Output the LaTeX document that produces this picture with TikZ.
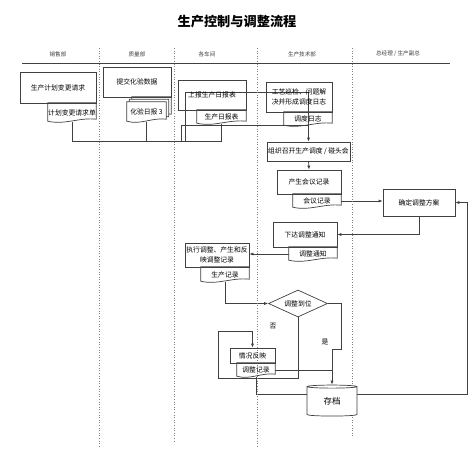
\documentclass[tikz,border=0pt]{standalone}
\usepackage{fontspec}
\setmainfont{Noto Sans CJK SC}
\usetikzlibrary{arrows.meta,calc,shapes.geometric}
\pgfdeclarelayer{docs}
\pgfdeclarelayer{lines}
\pgfsetlayers{docs,lines,main}
\newcommand\bodyfont{\fontsize{6.8}{10.5}\selectfont}
\newcommand\headfont{\fontsize{5.6}{7}\selectfont}
\newcommand\docshape[3]{%
  \draw[ln,fill=white] ($(#1.north west)+(#2,#3)$) -- ($(#1.north east)+(#2,#3)$)
   -- ($(#1.south east)+(#2,#3-3)$)
   .. controls ($(#1.south east)!0.35!(#1.south west)+(#2,#3-5)$) and ($(#1.south east)!0.65!(#1.south west)+(#2,#3+3)$)
   .. ($(#1.south west)+(#2,#3-1)$) -- cycle;}
\tikzset{
  ln/.style={draw=black!75, line width=0.7pt},
  arr/.style={ln, -{Latex[length=4pt,width=3pt]}},
  box/.style={draw=black!75, line width=0.7pt, inner sep=1pt, font=\bodyfont, align=center},
  docn/.style={inner sep=0pt, font=\bodyfont, align=center},
  lab/.style={inner sep=0pt, font=\bodyfont},
  head/.style={inner sep=0pt, font=\headfont, text=black!75},
  div/.style={draw=black!50, line width=0.6pt, dotted}
}
\begin{document}
\begin{tikzpicture}[x=1pt,y=-1pt]
\useasboundingbox (0,0) rectangle (474,474);
\begin{pgfonlayer}{docs}
\fill[white] (0,0) rectangle (474,474);
\end{pgfonlayer}

% title and headers
\node[inner sep=0pt, font=\fontsize{13.2}{15}\selectfont\bfseries] (title) at (237,22) {生产控制与调整流程};
\node[head] (h1) at (58,54) {销售部};
\node[head] (h2) at (137,54) {质量部};
\node[head] (h3) at (207,54) {各车间};
\node[head] (h4) at (302,54) {生产技术部};
\node[head] (h5) at (398,54) {总经理 / 生产副总};
\draw[ln] (22,63) -- (450,63);
\foreach \x/\yb in {99/448,174/443,257/448,352/438} \draw[div] (\x,48) -- (\x,\yb);

% process boxes
\node[box, minimum width=76pt, minimum height=31pt] (b1) at (58,87.5) {生产计划变更请求};
\node[box, minimum width=68pt, minimum height=30pt] (b2) at (137,82) {提交化验数据};
\node[box, minimum width=68pt, minimum height=30pt] (b3) at (212,95) {上报生产日报表};
\node[box, minimum width=66pt, minimum height=30pt, text width=62pt] (b4) at (299,97) {工艺巡检、问题解\\决并形成调度日志};
\node[box, minimum width=83pt, minimum height=19pt] (b5) at (308.5,151.5) {组织召开生产调度 / 碰头会};
\node[box, minimum width=64pt, minimum height=24pt] (b6) at (309,182) {产生会议记录};
\node[box, minimum width=72pt, minimum height=27pt] (b7) at (419,202.5) {确定调整方案};
\node[box, minimum width=64pt, minimum height=25pt] (b8) at (305,234.5) {下达调整通知};
\node[box, minimum width=64pt, minimum height=24pt, text width=62pt] (b9) at (217,255) {执行调整、产生和反\\映调整记录};
\node[box, minimum width=45pt, minimum height=15pt] (b10) at (252.5,355.5) {情况反映};
\node[box, diamond, minimum width=59pt, minimum height=27pt, aspect=2.2, inner sep=0pt] (dia) at (298,303.5) {调整到位};

% document nodes
\node[docn, minimum width=48pt, minimum height=19pt] (d1) at (72,112.5) {计划变更请求单};
\node[docn, minimum width=39pt, minimum height=20pt] (d2) at (146.5,112) {化验日报 3};
\node[docn, minimum width=49pt, minimum height=14pt] (d3) at (221.5,117) {生产日报表};
\node[docn, minimum width=48pt, minimum height=14pt] (d4) at (308,119) {调度日志};
\node[docn, minimum width=48pt, minimum height=14pt] (d6) at (317,201) {会议记录};
\node[docn, minimum width=48pt, minimum height=14pt] (d8) at (313,254) {调整通知};
\node[docn, minimum width=48pt, minimum height=15pt] (d9) at (225,274.5) {生产记录};
\node[docn, minimum width=38pt, minimum height=14pt] (d10) at (256,370) {调整记录};

\begin{pgfonlayer}{docs}
  \docshape{d1}{0}{0}
  \docshape{d2}{5}{-5}
  \docshape{d2}{2.5}{-2.5}
  \docshape{d2}{0}{0}
  \docshape{d3}{0}{0}
  \docshape{d4}{0}{0}
  \docshape{d6}{0}{0}
  \docshape{d8}{0}{0}
  \docshape{d9}{0}{0}
  \docshape{d10}{0}{0}
\end{pgfonlayer}

% archive cylinder
\node[cylinder, shape border rotate=90, aspect=0.18, draw=black!75, line width=0.7pt, fill=white,
      minimum width=50pt, minimum height=31pt, inner sep=0pt, font=\fontsize{8.5}{10}\selectfont] (arch) at (332,401.5) {存档};

% labels
\node[lab] (no) at (273,326) {否};
\node[lab] (yes) at (325,342) {是};

% connectors
\coordinate (bus) at (221.5,141);
\coordinate (up1) at (181,141);
\coordinate (up2) at (185,141);
\coordinate (rt) at (467,394);
\begin{pgfonlayer}{lines}
  \draw[ln] (d1.south) |- (bus) -- (d3.south);
  \draw[ln] (d2.south) -- (d2.south |- bus);
  \draw[ln] (up2) |- ($(b5.north)+(0,-49)$) -- ($(b5.north)+(0,-16)$);
  \draw[arr] (up1) |- ($(b5.north)+(0,-16)$) -- (b5.north);
  \draw[arr] (b5.south) -- (b6.north);
  \draw[arr] (d6.east) -- (d6.east -| b7.west);
  \draw[arr] (b7.south) |- (b8.east);
  \draw[arr] (d8.west) -- (d8.west -| b9.east);
  \draw[arr] (d9.south) |- (dia.west);
  \draw[arr] (dia.east) -| ($(arch.north)+(9,-35)$) -| (arch.north);
  \draw[arr] (dia.south) |- ($(b10.north)+(-34.5,31)$) |- ($(b10.north)+(0,-16)$) -- (b10.north);
  \draw[ln] (d10.east) -- (d10.east -| arch.north);
  \draw[arr] (d10.south) |- (rt) |- (b7.east);
\end{pgfonlayer}
\end{tikzpicture}
\end{document}
